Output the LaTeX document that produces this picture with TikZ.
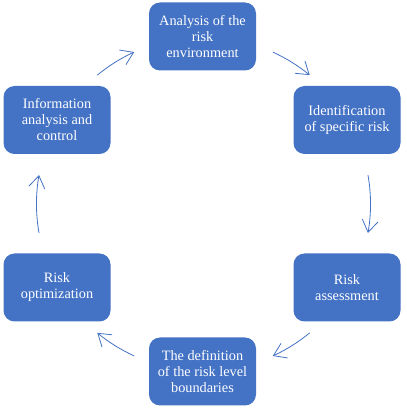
\documentclass[tikz,border=0pt]{standalone}
\usepackage{fontspec}
\setmainfont{Liberation Serif}
\usetikzlibrary{arrows.meta}
\definecolor{riskblue}{HTML}{4472C4}
\tikzset{
  stage/.style={rectangle,rounded corners=11pt,fill=riskblue,text=white,
    minimum width=107pt,minimum height=68pt,align=center,inner sep=2pt,
    font=\fontsize{14.3pt}{16pt}\selectfont},
  link/.style={draw=riskblue,line width=.8pt,
    -{Straight Barb[length=12pt,width=16pt]}}
}
\begin{document}
\begin{tikzpicture}[x=1pt,y=1pt]
\useasboundingbox (0,0) rectangle (407,408);
\coordinate (hub) at (203.5,204);
\node[stage] (env)    at (202.5,371.5) {Analysis of the\\risk\\environment};
\node[stage] (ident)  at (347,288)     {Identification\\of specific risk};
\node[stage] (assess) at (347,120.5)   {Risk\\assessment};
\node[stage] (bound)  at (202.5,36.5)  {The definition\\of the risk level\\boundaries};
\node[stage] (optim)  at (57,120.5)    {Risk\\optimization};
\node[stage] (info)   at (57,288)      {Information\\analysis and\\control};
% Arrows round the cycle, on a circle about the hub
\foreach \s/\e in {129.5/114.5,65.5/50.5,10/-10,-50.5/-65.5,-114.5/-129.5,190/170}
  \draw[link] (hub) ++(\s:167) arc[start angle=\s,end angle=\e,radius=167];
\end{tikzpicture}
\end{document}
